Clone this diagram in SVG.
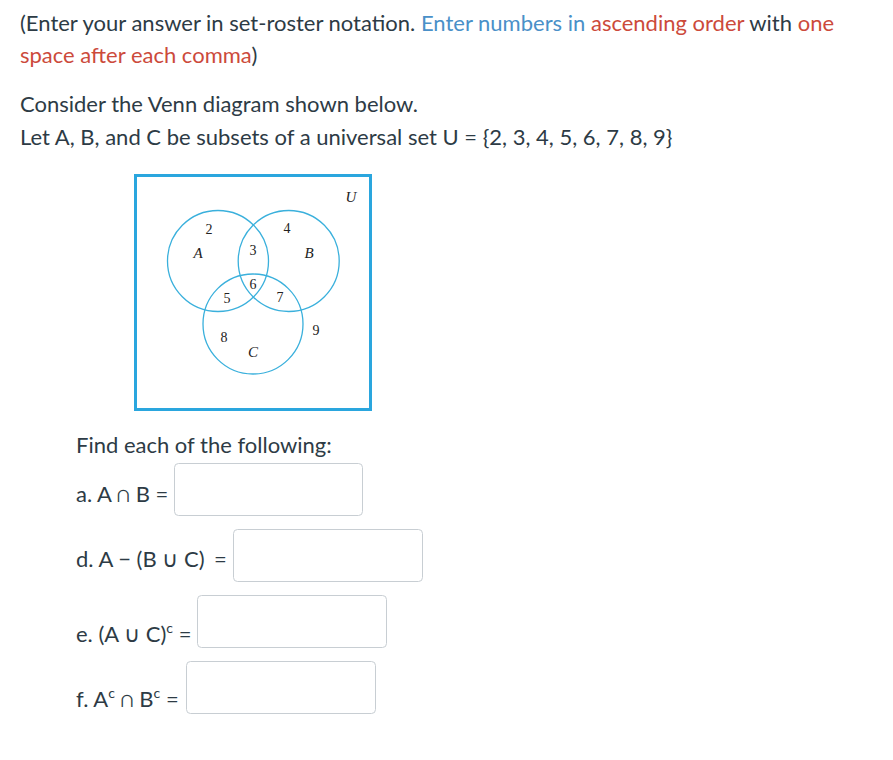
<svg xmlns="http://www.w3.org/2000/svg" width="893" height="760" viewBox="0 0 893 760">
<style>
.t{font-family:Lato,"Open Sans","Liberation Sans",sans-serif;font-size:22px;fill:#2d3b45}
.b{fill:#4a90c8}
.r{fill:#cc4a3b}
.v{fill:none;stroke:#3ab0dc;stroke-width:1.3}
.n{font-family:"Liberation Serif","DejaVu Serif",serif;font-size:14px;fill:#222;text-anchor:middle}
.l{font-style:italic;font-size:15px}
.box{fill:#fff;stroke:#c8ced3;stroke-width:1}
.sup{font-size:14px}
</style>
<rect width="893" height="760" fill="#fff"/>
<g id="instructions">
<text class="t" x="20" y="31">(Enter your answer in set-roster notation. <tspan class="b">Enter numbers in</tspan> <tspan class="r">ascending order</tspan> with <tspan class="r">one</tspan></text>
<text class="t" x="20" y="63"><tspan class="r">space after each comma</tspan>)</text>
<text class="t" x="20" y="112">Consider the Venn diagram shown below.</text>
<text class="t" x="20" y="145">Let A, B, and C be subsets of a universal set U = {2, 3, 4, 5, 6, 7, 8, 9}</text>
</g>
<g id="venn">
<rect id="U" x="135.5" y="175.5" width="235" height="234" fill="none" stroke="#2aa6de" stroke-width="3"/>
<g id="circleA"><circle class="v" cx="218" cy="261" r="50.5"/></g>
<g id="circleB"><circle class="v" cx="288.7" cy="261" r="50.5"/></g>
<g id="circleC"><circle class="v" cx="253" cy="324" r="50"/></g>
<g id="labels">
<text class="n l" x="351" y="201.5">U</text>
<text class="n" x="209" y="234">2</text>
<text class="n l" x="198" y="257.5">A</text>
<text class="n" x="253" y="255">3</text>
<text class="n" x="287" y="233">4</text>
<text class="n l" x="309" y="257.5">B</text>
<text class="n" x="253" y="289">6</text>
<text class="n" x="227" y="302.5">5</text>
<text class="n" x="280" y="301.5">7</text>
<text class="n" x="316" y="335">9</text>
<text class="n" x="224" y="341.5">8</text>
<text class="n l" x="253" y="357">C</text>
</g>
</g>
<g id="questions">
<text class="t" x="76" y="453">Find each of the following:</text>
<g id="qa"><text class="t" x="76" y="502">a. A ∩ B =</text><rect class="box" x="174.5" y="463.5" width="188" height="52" rx="4"/></g>
<g id="qd"><text class="t" x="76" y="567">d. A − (B ∪ C)<tspan x="214">=</tspan></text><rect class="box" x="233.5" y="529.5" width="189" height="52" rx="4"/></g>
<g id="qe"><text class="t" x="76" y="642">e. (A ∪ C)<tspan class="sup" dy="-9">c</tspan><tspan dy="9"> =</tspan></text><rect class="box" x="197.5" y="595.5" width="189" height="52" rx="4"/></g>
<g id="qf"><text class="t" x="76" y="707">f. A<tspan class="sup" dy="-9">c</tspan><tspan dy="9"> ∩ B</tspan><tspan class="sup" dy="-9">c</tspan><tspan dy="9"> =</tspan></text><rect class="box" x="186.5" y="661.5" width="189" height="52" rx="4"/></g>
</g>
</svg>
